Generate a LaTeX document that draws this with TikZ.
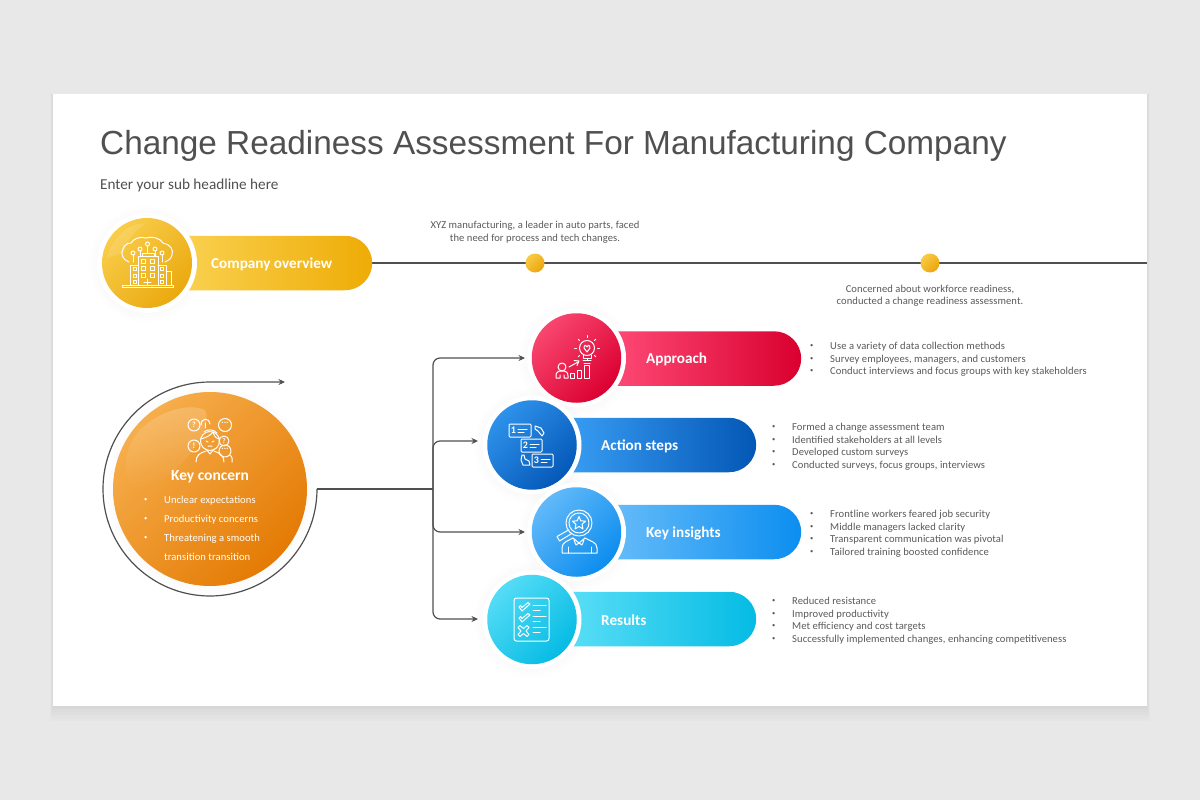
\documentclass[tikz,border=0pt]{standalone}
\usepackage{fontspec}
\setmainfont{Carlito}
\newfontfamily\titlefont{Liberation Sans}
\newfontfamily\bodyfont[LetterSpace=0.6]{Carlito}
\usetikzlibrary{arrows.meta,shapes.misc,fadings}
\definecolor{pagebg}{HTML}{E9E8E9}
\definecolor{ink}{HTML}{505050}
\definecolor{bodyink}{HTML}{5A5A5A}
\definecolor{wire}{HTML}{505050}
\definecolor{dotL}{HTML}{F9CB45}\definecolor{dotR}{HTML}{ECA50C}
\definecolor{coPillL}{HTML}{FAD354}\definecolor{coPillR}{HTML}{EEAC06}
\definecolor{coL}{HTML}{F9CD4A}\definecolor{coR}{HTML}{EAA90F}
\definecolor{kcL}{HTML}{F6AE4C}\definecolor{kcR}{HTML}{E47A04}
\definecolor{apPillL}{HTML}{FF4C78}\definecolor{apPillR}{HTML}{D9002F}
\definecolor{apL}{HTML}{F9466F}\definecolor{apR}{HTML}{DA0030}
\definecolor{acPillL}{HTML}{3A9FF5}\definecolor{acPillR}{HTML}{0457B5}
\definecolor{acL}{HTML}{2E92EA}\definecolor{acR}{HTML}{0558B8}
\definecolor{kiPillL}{HTML}{68BDF9}\definecolor{kiPillR}{HTML}{0C8EF0}
\definecolor{kiL}{HTML}{62B9F9}\definecolor{kiR}{HTML}{0C8DEE}
\definecolor{rePillL}{HTML}{5CDFF7}\definecolor{rePillR}{HTML}{05BBE4}
\definecolor{reL}{HTML}{54DCF6}\definecolor{reR}{HTML}{06BBE4}
\tikzset{
  x=1pt,y=-1pt,
  disc/.style={circle,minimum size=#1,inner sep=0pt},
  discA/.style 2 args={left color=#1,right color=#2,shading angle=45},
  pillbar/.style={rounded rectangle,rounded rectangle west arc=none,inner sep=0pt,anchor=west,minimum height=54.5pt},
  pilltext/.style={font=\bfseries\fontsize{15.2}{17}\selectfont,text=white,anchor=west,inner sep=0pt},
  bodytext/.style={font=\bodyfont\fontsize{10.6}{12.5}\selectfont,text=bodyink,anchor=north west,inner sep=0pt,align=left},
  bullettext/.style={font=\bodyfont\fontsize{6.5}{12.5}\selectfont,text=bodyink,anchor=north west,inner sep=0pt,align=left},
  centertext/.style={font=\bodyfont\fontsize{10.6}{12.5}\selectfont,text=bodyink,anchor=center,inner sep=0pt,align=center},
  concerntext/.style={font=\bodyfont\fontsize{10.6}{19}\selectfont,text=white,anchor=north west,inner sep=0pt,align=left},
  concernbul/.style={font=\bodyfont\fontsize{6.5}{19}\selectfont,text=white,anchor=north west,inner sep=0pt,align=left},
  wireline/.style={draw=wire,line width=1.2pt},
  conn/.style={wireline,rounded corners=7pt},
  tip/.style={-{Stealth[length=6.5pt,width=6pt]}},
  icon/.style={draw=white,line width=1pt,line cap=round,line join=round},
  tiny/.style={font=\bfseries\fontsize{#1}{#1}\selectfont,text=white,inner sep=0pt},
}
\newcommand{\softshadow}[3]{%
  \foreach \g in {13,11,9,7,5}{\fill[black,opacity=0.005] (#1,#2) circle[radius=#3+\g];}}
\begin{document}
\begin{tikzpicture}
\useasboundingbox (0,0) rectangle (1200,800);
\fill[pagebg] (0,0) rectangle (1200,800);
% card with soft shadow
\foreach \g in {15,12,9,6,3,1.5}{\fill[black,opacity=0.012] (53-\g/5,94) rectangle (1147+\g/5,706+\g);}
\fill[white] (53,94) rectangle (1147,706);

% title
\node[font=\titlefont\fontsize{33.35}{40}\selectfont,text=ink,anchor=west,inner sep=0pt] (title) at (100,145.5) {Change Readiness Assessment For Manufacturing Company};
\node[font=\fontsize{15.2}{17}\selectfont,text=ink,anchor=west,inner sep=0pt] (subtitle) at (100,185.5) {Enter your sub headline here};

% timeline
\coordinate (lineend) at (1147,263);
\coordinate (linestart) at (360,263);
\draw[wireline] (linestart) -- (lineend);
\node[disc=19pt,discA={dotL}{dotR}] (dotA) at (535,263) {};
\node[disc=19pt,discA={dotL}{dotR}] (dotB) at (930,263) {};
\node[centertext] (noteA) at (535,232) {XYZ manufacturing, a leader in auto parts, faced\\the need for process and tech changes.};
\node[centertext] (noteB) at (930,295.5) {Concerned about workforce readiness,\\conducted a change readiness assessment.};

% company overview
\softshadow{147}{264}{45}
\node[pillbar,minimum width=202pt,left color=coPillL,right color=coPillR,shading angle=90] (companypill) at (170,263) {};
\fill[white] (147,263) circle[radius=50];
\node[disc=90pt,discA={coL}{coR}] (company) at (147,263) {};
\fill[white,opacity=0.12] (145,224) .. controls (130,222) and (113,236) .. (107,258) .. controls (112,256) and (120,254) .. (124,252) .. controls (128,238) and (136,230) .. (145,224) -- cycle;
\node[pilltext] (companylabel) at (211,264) {Company overview};
% building icon
\begin{scope}[icon]
\draw (122,285) rectangle (173,287.5);
\draw (138,285) -- (138,256) -- (158,256) -- (158,285);
\draw (142,256) -- (142,253) -- (154,253) -- (154,256);
\draw (130,285) -- (130,265) -- (138,265);
\draw (158,265) -- (166,265) -- (166,285);
\draw (166,271) -- (171,271) -- (171,285);
\foreach \wx in {141.5,150}{\foreach \wy in {259,266,273}{\draw (\wx,\wy) rectangle ++(4,4);}}
\foreach \wy in {267,274,280}{\draw (133,\wy) rectangle ++(3,3);\draw (160,\wy) rectangle ++(3,3);}
\draw (147.5,285) -- (147.5,279) (144,282) -- (151,282);
\draw (129,262) .. controls (123,260) and (120,254) .. (123,249) .. controls (124,245) and (128,243) .. (131,243) .. controls (133,239) and (140,236) .. (146,238) .. controls (152,236) and (160,238) .. (163,243) .. controls (170,244) and (174,250) .. (172,255) .. controls (171,259) and (168,261) .. (165,262);
\foreach \px/\py/\qy in {133/253/262,140/249/256,147.5/244/253,155/249/256,162/253/262}{\draw (\px,\py) circle[radius=2]; \draw (\px,\py+2) -- (\px,\qy);}
\end{scope}

% key concern
\softshadow{210}{490}{92}
\node[disc=194pt,discA={kcL}{kcR}] (concern) at (210,489) {};
\fill[white,opacity=0.2,path fading=south] (205,410) .. controls (190,403) and (160,410) .. (140,430) .. controls (125,447) and (122,468) .. (130,482) .. controls (135,490) and (155,488) .. (175,470) .. controls (195,452) and (212,425) .. (205,410) -- cycle;
\node[font=\bfseries\fontsize{15.5}{18}\selectfont,text=white,inner sep=0pt] (concernlabel) at (210,477) {Key concern};
\node[concernbul] (concernbullets) at (144,498) {•\\•\\•};
\node[concerntext] (concernlist) at (164,495.5) {Unclear expectations\\Productivity concerns\\Threatening a smooth\\transition transition};
\coordinate (ringstart) at (317,489);
\coordinate (ringend) at (285,382);
\draw[wireline,tip] (ringstart) .. controls (317,548.1) and (269.1,596) .. (210,596) .. controls (150.9,596) and (103,548.1) .. (103,489) .. controls (103,429.9) and (150.9,382) .. (210,382) -- (ringend);
% people icon
\begin{scope}[icon]
\draw (210,441) circle[radius=9.5];
\draw (200.5,439) .. controls (205,438) and (210,436) .. (213,432) .. controls (214,436) and (216,438.5) .. (219.5,439);
\draw (204,432) .. controls (206,429) and (214,429) .. (217,433);
\draw (194,425) circle[radius=6];
\draw (225,425) circle[radius=6.5];
\draw (194,446) circle[radius=6];
\draw (224,441) circle[radius=5];
\draw (225,451) circle[radius=6];
\draw (201,425) .. controls (201,417) and (210,418) .. (210,424);
\draw (205,423) -- (205,428);
\draw (196,462) .. controls (196,455) and (200,453) .. (206,451) (214,451) .. controls (220,453) and (224,456) .. (224,462);
\draw (206,449) -- (210,454) -- (214,449);
\draw (206,441) -- (208,442) (212,442) -- (214,441) (208,446) -- (212,446);
\draw (232,462) -- (232,458) .. controls (232,456) and (231,456) .. (229,455);
\end{scope}
\node[tiny=8] (qA) at (194,425) {?};
\node[tiny=8] (exA) at (194,446) {!};
\node[tiny=7] (qB) at (224,441) {?};
\node[tiny=9] (moreA) at (225,423) {...};
\node[tiny=9] (moreB) at (225,449) {...};

% approach
\softshadow{576.5}{359}{45}
\node[pillbar,minimum width=195pt,left color=apPillL,right color=apPillR,shading angle=90] (approachpill) at (606,358.5) {};
\fill[white] (576.5,358) circle[radius=49.5];
\node[disc=89.5pt,discA={apL}{apR}] (approach) at (576.5,358) {};
\node[pilltext] (approachlabel) at (646,359.5) {Approach};
\node[bullettext] (approachbullets) at (810,344.5) {•\\•\\•};
\node[bodytext] (approachlist) at (830,342) {Use a variety of data collection methods\\Survey employees, managers, and customers\\Conduct interviews and focus groups with key stakeholders};
\begin{scope}[icon]
\draw (587,348) circle[radius=7.5];
\draw (583,355) -- (583,358) -- (591,358) -- (591,355);
\draw (583,360.5) -- (591,360.5) (584,363) -- (590,363);
\foreach \ang in {0,45,90,135,180,225,270,315}{\draw ({587+10.5*cos(\ang)},{348+10.5*sin(\ang)}) -- ({587+12.3*cos(\ang)},{348+12.3*sin(\ang)});}
\draw (584,348) .. controls (584,344) and (587,345) .. (587,347) .. controls (587,345) and (590,344) .. (590,348) -- (587,352) -- cycle;
\draw (570.5,378) rectangle (574.5,373);
\draw (577.5,378) rectangle (581.5,370);
\draw (584.5,378) rectangle (589.5,365.5);
\draw (562,367) circle[radius=4];
\draw (556,378) -- (556,376) .. controls (556,372) and (558,371) .. (562,371) .. controls (566,371) and (568,372) .. (568,376) -- (568,378) (556,378) -- (560,378) -- (560,375) (564,375) -- (564,378) -- (568,378);
\draw (569,367) -- (578,362);
\draw (574,360.5) -- (579,361) -- (577,365.5);
\end{scope}

% action steps
\softshadow{532}{446}{45}
\node[pillbar,minimum width=194pt,left color=acPillL,right color=acPillR,shading angle=90] (actionpill) at (562,445) {};
\fill[white] (532,445) circle[radius=49.5];
\node[disc=89.5pt,discA={acL}{acR}] (action) at (532,445) {};
\node[pilltext] (actionlabel) at (601,446.5) {Action steps};
\node[bullettext] (actionbullets) at (772,425.5) {•\\•\\•\\•};
\node[bodytext] (actionlist) at (792,423) {Formed a change assessment team\\Identified stakeholders at all levels\\Developed custom surveys\\Conducted surveys, focus groups, interviews};
\begin{scope}[icon]
\draw[rounded corners=1pt] (509,424) rectangle (531,437);
\draw[rounded corners=1pt] (521,439) rectangle (542,452);
\draw[rounded corners=1pt] (532,454) rectangle (553,467);
\draw (518,429.5) -- (527,429.5) (518,432.5) -- (524,432.5);
\draw (530,444.5) -- (539,444.5) (530,447.5) -- (536,447.5);
\draw (541,459.5) -- (550,459.5) (541,462.5) -- (547,462.5);
\draw (535,426) -- (541,428) -- (544,433) -- (542,436) -- (538,431) -- (535,429) -- cycle;
\draw (522,455) -- (524,455) -- (525,459) -- (529,461) -- (530,465) -- (523,465) -- (521,460) -- cycle;
\end{scope}
\node[tiny=10] (numA) at (513.5,430.5) {1};
\node[tiny=10] (numB) at (525.5,445.5) {2};
\node[tiny=10] (numC) at (536.5,460.5) {3};

% key insights
\softshadow{576.5}{533}{45}
\node[pillbar,minimum width=195pt,left color=kiPillL,right color=kiPillR,shading angle=90] (insightspill) at (606,532) {};
\fill[white] (576.5,532) circle[radius=49.5];
\node[disc=89.5pt,discA={kiL}{kiR}] (insights) at (576.5,532) {};
\node[pilltext] (insightslabel) at (646,533.5) {Key insights};
\node[bullettext] (insightsbullets) at (810,512.5) {•\\•\\•\\•};
\node[bodytext] (insightslist) at (830,510) {Frontline workers feared job security\\Middle managers lacked clarity\\Transparent communication was pivotal\\Tailored training boosted confidence};
\begin{scope}[icon]
\draw (579,523) circle[radius=13];
\draw (579,523) circle[radius=10];
\draw (579,516.5) -- (580.8,520.8) -- (585.5,521.2) -- (582,524.3) -- (583,529) -- (579,526.5) -- (575,529) -- (576,524.3) -- (572.5,521.2) -- (577.2,520.8) -- cycle;
\draw (568.5,530) -- (557,536.5) -- (559.5,541) -- (571,534);
\draw (573,538) .. controls (568,541) and (562,542) .. (562,548) -- (562,553) -- (597,553) -- (597,548) .. controls (597,542) and (590,541) .. (585,538);
\draw (573,538) -- (579,543) -- (585,538) (574,540) -- (576,545) -- (579,543) -- (582,545) -- (584,540);
\draw (568,553) -- (568,547) (591,553) -- (591,547);
\end{scope}

% results
\softshadow{532}{620}{45}
\node[pillbar,minimum width=194pt,left color=rePillL,right color=rePillR,shading angle=90] (resultspill) at (562,619) {};
\fill[white] (532,619.5) circle[radius=49.5];
\node[disc=89.5pt,discA={reL}{reR}] (results) at (532,619.5) {};
\node[pilltext] (resultslabel) at (601,620.5) {Results};
\node[bullettext] (resultsbullets) at (772,599.5) {•\\•\\•\\•};
\node[bodytext] (resultslist) at (792,597) {Reduced resistance\\Improved productivity\\Met efficiency and cost targets\\Successfully implemented changes, enhancing competitiveness};
\begin{scope}[icon]
\draw[rounded corners=2.5pt] (514,598) rectangle (549,641);
\draw (519,607) -- (522,611) -- (530,604) -- (528,602.5) -- (522,607.5) -- (520.5,605.5) -- cycle;
\draw (519,618) -- (522,622) -- (530,615) -- (528,613.5) -- (522,618.5) -- (520.5,616.5) -- cycle;
\draw (520,625.5) -- (523.5,628.5) -- (527,625.5) -- (529,627.5) -- (526,631) -- (529,634.5) -- (527,636.5) -- (523.5,633.5) -- (520,636.5) -- (518,634.5) -- (521,631) -- (518,627.5) -- cycle;
\draw (533,605) -- (546,605) (533,610) -- (540,610);
\draw (533,616) -- (546,616) (533,621) -- (540,621);
\draw (533,627) -- (546,627) (533,632) -- (540,632);
\end{scope}

% connectors from key concern to the four cards
\coordinate (bus) at (433,489);
\coordinate (toA) at (525,358);
\coordinate (toB) at (478,441);
\coordinate (toC) at (525,532);
\coordinate (toD) at (478,619);
\draw[wireline] (ringstart) -- (bus);
\draw[conn,tip] (bus) |- (toA);
\draw[conn,tip] (bus) |- (toB);
\draw[conn,tip] (bus) |- (toC);
\draw[conn,tip] (bus) |- (toD);
\end{tikzpicture}
\end{document}
